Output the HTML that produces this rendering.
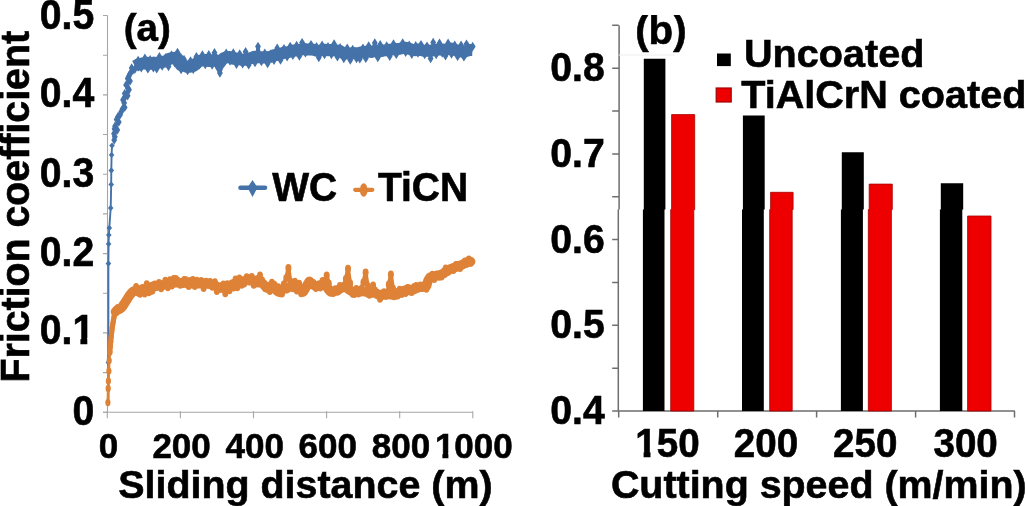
<!DOCTYPE html>
<html><head><meta charset="utf-8"><title>Friction coefficient charts</title>
<style>html,body{margin:0;padding:0;background:#fff;}svg{display:block;}text{font-family:"Liberation Sans",Arial,Helvetica,sans-serif;font-weight:bold;fill:#000;stroke:#000;stroke-width:0.6px;}</style>
</head><body>
<svg width="1025" height="506" viewBox="0 0 1025 506">
<defs>
<marker id="db" markerWidth="9" markerHeight="10" refX="4.5" refY="4.5" overflow="visible" markerUnits="userSpaceOnUse"><path d="M4.5 -0.2 L7.4 4.5 L4.5 9.2 L1.6 4.5Z" fill="#4472a9"/></marker>
<marker id="ds" markerWidth="7" markerHeight="7" refX="3.5" refY="3.5" markerUnits="userSpaceOnUse"><path d="M3.5 0.4 L6.3 3.5 L3.5 6.6 L0.7 3.5Z" fill="#4472a9"/></marker>
<marker id="co" markerWidth="8" markerHeight="8" refX="4" refY="4" overflow="visible" markerUnits="userSpaceOnUse"><ellipse cx="4" cy="4" rx="3.0" ry="4.0" fill="#de8238"/></marker>
</defs>
<rect width="1025" height="506" fill="#fff"/>
<g stroke="#a6a6a6" stroke-width="1.1" fill="none">
<path d="M107.5 15.5 V412.3 M103.0 412.3 H473"/>
<path d="M103.0 412.3 H107.5 M103.0 372.6 H107.5 M103.0 332.9 H107.5 M103.0 293.3 H107.5 M103.0 253.6 H107.5 M103.0 213.9 H107.5 M103.0 174.2 H107.5 M103.0 134.5 H107.5 M103.0 94.9 H107.5 M103.0 55.2 H107.5 M103.0 15.5 H107.5 M107.3 411.3 V418.3 M180.4 411.3 V418.3 M253.5 411.3 V418.3 M326.6 411.3 V418.3 M399.7 411.3 V418.3 M472.8 411.3 V418.3 "/>
</g>
<text transform="translate(94.2 424.6) scale(1 1.065)" font-size="39.2" text-anchor="end">0</text>
<text transform="translate(94.2 344.4) scale(1 1.065)" font-size="39.2" text-anchor="end">0.1</text>
<text transform="translate(94.2 265.9) scale(1 1.065)" font-size="39.2" text-anchor="end">0.2</text>
<text transform="translate(94.2 186.5) scale(1 1.065)" font-size="39.2" text-anchor="end">0.3</text>
<text transform="translate(94.2 107.2) scale(1 1.065)" font-size="39.2" text-anchor="end">0.4</text>
<text transform="translate(94.2 29.0) scale(1 1.065)" font-size="39.2" text-anchor="end">0.5</text>
<text transform="translate(108.5 457.5) scale(1 1.02)" font-size="35" text-anchor="middle">0</text>
<text transform="translate(181.6 457.5) scale(1 1.02)" font-size="35" text-anchor="middle">200</text>
<text transform="translate(254.7 457.5) scale(1 1.02)" font-size="35" text-anchor="middle">400</text>
<text transform="translate(327.8 457.5) scale(1 1.02)" font-size="35" text-anchor="middle">600</text>
<text transform="translate(400.9 457.5) scale(1 1.02)" font-size="35" text-anchor="middle">800</text>
<text transform="translate(473.8 457.5) scale(1 1.02)" font-size="35" text-anchor="middle">1000</text>
<text x="118.3" y="498" font-size="39.4">Sliding distance (m)</text>
<text transform="translate(29.0 382.6) rotate(-90) scale(1.008 1.04)" font-size="39">Friction coefficient</text>
<text x="123.7" y="41.0" font-size="38.5">(a)</text>
<rect x="73" y="338" width="7.4" height="8.0" fill="#fff"/>
<rect x="87.3" y="338" width="7.7" height="8.0" fill="#fff"/>
<rect x="435.5" y="453" width="6.9" height="7.0" fill="#fff"/>
<rect x="448.4" y="453" width="6.8" height="7.0" fill="#fff"/>
<polyline points="108.4,404 108.4,362.5 108.4,263.6 108.6,244 108.8,235 109.3,228 110.7,208 111.2,184.5 111.3,170.4 111.6,155 112.0,145.6" stroke="#4472a9" stroke-width="1.9" fill="none" marker-mid="url(#ds)" marker-end="url(#ds)"/>
<polyline points="135.0,66.2 138.4,64.4 141.7,63.6 144.5,63.5 147.6,62.7 150.4,63.7 153.8,62.6 156.6,63.1 159.4,62.4 162.5,61.8 165.5,61.6 168.5,59.1 171.1,58.4 174.3,57.8 177.4,58.2 180.8,65.1 184.1,65.6 187.2,66.8 190.2,66.7 193.5,66.0 196.5,63.4 199.3,60.9 202.2,60.5 205.6,60.0 208.9,61.0 211.9,60.7 214.8,59.7 217.5,61.8 220.2,62.1 223.4,58.4 226.6,57.2 229.8,57.0 233.0,58.7 236.4,58.6 239.3,59.2 242.5,59.8 245.3,59.8 248.7,58.8 252.0,57.7 254.9,56.7 258.3,57.3 261.4,57.3 264.5,57.6 267.8,57.1 270.9,56.7 274.0,55.2 277.5,54.7 280.8,53.9 284.2,52.4 287.4,52.4 290.2,51.5 293.1,50.6 296.3,50.6 299.5,50.0 302.3,49.2 305.2,49.1 308.1,49.6 310.8,49.6 313.5,49.7 316.3,50.7 318.9,51.2 322.0,50.0 324.7,49.7 327.8,50.2 331.0,49.9 333.8,50.2 337.2,50.5 340.5,51.4 343.6,53.2 346.8,53.4 350.1,53.9 353.0,53.0 356.4,53.4 359.6,52.9 363.0,52.0 365.7,52.0 368.6,51.4 371.2,51.9 374.4,50.9 377.5,51.0 380.5,51.2 383.5,50.4 386.5,50.3 390.0,49.8 393.3,49.4 396.5,48.9 399.9,48.7 402.6,48.0 405.7,47.7 409.1,48.7 411.9,49.6 415.4,50.2 418.3,49.4 421.3,50.2 424.5,50.8 427.3,50.7 430.4,50.7 433.3,50.3 436.2,49.8 439.3,49.4 442.1,49.6 445.3,49.8 448.0,49.0 451.3,48.6 454.6,49.8 457.6,50.7 460.8,51.3 464.0,51.8 466.7,50.9 469.6,50.0 472.4,50.1" stroke="#4472a9" stroke-width="12" fill="none" stroke-linejoin="round"/>
<polyline points="114.2,140.1 114.8,136.7 114.0,133.8 117.3,130.0 114.5,128.9 115.0,126.2 118.8,122.1 116.6,119.5 118.0,116.7 120.0,114.9 121.1,112.0 122.5,108.9 124.7,107.4 124.2,102.9 123.0,99.9 124.3,98.3 127.6,95.7 124.7,93.6 129.0,89.8 127.9,88.3 126.1,84.9 130.0,81.1 127.7,78.5 128.9,76.3 129.9,73.9 132.8,70.3 131.7,67.9 134.8,69.2 138.1,60.5 141.3,67.7 144.9,58.2 147.9,68.9 150.2,59.7 153.4,67.9 156.7,68.7 159.4,56.7 162.2,66.1 165.6,58.0 168.5,66.5 171.5,54.9 174.7,62.8 177.5,52.5 181.1,69.6 184.0,59.4 187.6,70.5 190.5,61.0 193.3,69.4 196.4,56.7 199.3,64.8 202.4,55.0 205.3,64.6 208.8,54.8 212.1,65.0 214.5,52.7 217.7,67.5 219.9,73.0 223.6,63.2 226.2,53.2 230.0,61.0 233.3,52.9 236.5,64.3 239.7,54.0 242.6,63.9 245.6,51.8 248.7,64.9 252.3,55.5 255.0,62.6 258.0,46.5 261.4,61.6 264.8,53.2 267.6,63.6 270.8,54.2 274.0,60.2 277.2,48.3 280.5,60.1 284.0,48.6 287.1,56.8 290.2,46.5 292.9,55.3 296.6,45.5 299.4,56.0 302.1,42.6 305.4,52.9 308.5,48.5 311.0,44.6 313.6,51.4 316.6,46.7 318.8,57.6 322.1,45.2 324.5,54.6 328.0,46.7 331.4,54.6 334.1,43.9 337.4,56.7 340.1,47.8 343.8,58.6 347.2,48.2 350.3,60.1 352.7,49.5 356.5,58.6 359.8,58.9 363.0,48.1 365.8,58.4 368.7,45.9 371.1,53.0 374.8,43.0 377.8,57.5 380.2,44.7 383.5,52.1 386.7,46.0 389.7,56.2 393.5,44.0 396.3,54.4 399.8,49.6 402.7,42.9 405.6,52.3 409.2,45.1 411.8,54.3 415.7,45.8 418.0,53.1 421.0,44.6 424.7,54.5 427.0,46.1 430.6,58.5 433.2,42.4 436.2,54.5 439.5,43.3 442.2,53.1 445.5,55.8 448.1,43.3 451.5,54.1 454.7,45.1 457.6,56.4 461.1,45.2 463.9,56.9 466.5,44.1 469.7,51.3 472.7,46.5" stroke="#4472a9" stroke-width="2.8" stroke-linejoin="round" fill="none" marker-start="url(#db)" marker-mid="url(#db)" marker-end="url(#db)"/>
<polyline points="107.9,402.6 108.2,388.4 108.4,381 108.9,371 109.2,360.5 109.9,352.3" stroke="#de8238" stroke-width="2.6" fill="none"/>
<polyline points="109.9,352.3 110.4,346 110.8,341 111.2,336.5 111.7,332 112.2,328 112.8,324 113.4,320.5 114,317 114.9,313.5" stroke="#de8238" stroke-width="5" fill="none" stroke-linecap="round"/>
<ellipse cx="107.9" cy="402.6" rx="2.6" ry="3.6" fill="#de8238"/>
<ellipse cx="108.2" cy="388.4" rx="2.6" ry="3.6" fill="#de8238"/>
<ellipse cx="108.4" cy="381" rx="2.6" ry="3.6" fill="#de8238"/>
<ellipse cx="108.9" cy="371" rx="2.6" ry="3.6" fill="#de8238"/>
<ellipse cx="109.2" cy="360.5" rx="2.6" ry="3.6" fill="#de8238"/>
<ellipse cx="109.9" cy="352.3" rx="2.6" ry="3.6" fill="#de8238"/>
<ellipse cx="110.4" cy="346" rx="2.6" ry="3.6" fill="#de8238"/>
<ellipse cx="110.8" cy="341" rx="2.6" ry="3.6" fill="#de8238"/>
<ellipse cx="111.2" cy="336.5" rx="2.6" ry="3.6" fill="#de8238"/>
<ellipse cx="111.7" cy="332" rx="2.6" ry="3.6" fill="#de8238"/>
<ellipse cx="112.2" cy="328" rx="2.6" ry="3.6" fill="#de8238"/>
<ellipse cx="112.8" cy="324" rx="2.6" ry="3.6" fill="#de8238"/>
<ellipse cx="113.4" cy="320.5" rx="2.6" ry="3.6" fill="#de8238"/>
<ellipse cx="114" cy="317" rx="2.6" ry="3.6" fill="#de8238"/>
<ellipse cx="114.9" cy="313.5" rx="2.6" ry="3.6" fill="#de8238"/>
<polyline points="115.5,311.8 117.8,309.4 119.8,309.0 122.0,307.2 124.5,303.3 127.1,299.3 129.6,295.3 131.8,292.7 133.7,291.0 136.1,290.7 137.9,290.0 140.1,290.3 142.3,289.8 144.7,289.4 146.7,288.0 148.8,287.6 150.8,287.1 152.5,286.3 154.7,286.4 156.7,285.6 159.0,285.3 161.1,285.5 163.4,284.6 165.3,284.1 167.9,283.1 169.9,282.9 171.9,283.0 173.7,282.9 175.9,282.8 177.7,282.5 180.1,282.8 182.3,282.8 184.1,282.5 186.2,283.2 188.6,283.3 190.3,283.7 192.8,283.6 194.8,283.6 196.8,283.7 199.0,283.7 201.2,283.4 203.6,283.2 206.0,283.6 207.9,283.2 210.2,284.3 212.4,285.1 214.9,285.4 216.8,286.5 219.0,287.4 221.6,288.0 223.4,287.8 225.3,288.4 227.3,287.8 229.5,286.1 231.6,285.3 233.5,284.3 235.5,282.9 237.3,282.5 239.4,282.0 241.7,281.7 244.2,280.9 246.7,280.3 249.2,279.1 251.8,280.8 253.7,281.5 255.8,282.5 258.2,282.6 260.2,282.5 262.8,283.7 265.2,286.3 267.7,288.2 269.9,286.5 271.9,285.2 274.3,287.4 276.0,289.8 278.2,291.9 280.1,291.0 282.0,289.2 283.8,288.9 286.1,288.7 287.9,287.7 290.4,286.6 292.9,285.5 294.9,285.5 296.8,286.9 299.1,288.1 301.1,290.2 303.3,291.9 305.5,288.1 307.5,284.4 309.4,281.3 311.6,283.5 313.3,284.9 315.9,285.9 318.2,286.0 320.3,285.4 322.5,284.0 324.3,283.6 326.7,286.8 328.9,290.0 330.6,291.9 333.1,291.8 335.2,291.0 337.7,290.5 339.9,288.8 341.8,287.6 344.0,287.3 346.4,287.3 348.8,289.6 350.8,290.7 352.6,291.7 354.4,292.2 356.3,291.8 358.3,291.5 360.9,291.8 362.8,291.1 365.4,291.8 367.6,292.6 369.4,293.2 371.6,292.9 374.0,293.0 376.1,293.2 377.9,294.6 380.0,295.5 381.9,294.6 384.0,293.8 385.9,294.4 387.8,293.9 389.9,294.6 391.6,294.7 394.1,295.4 395.8,294.6 397.7,293.1 399.7,291.8 401.7,291.4 403.6,291.1 405.6,290.3 407.6,289.2 409.9,289.4 411.8,289.5 414.2,289.4 416.1,288.2 418.1,287.7 420.3,286.9 422.4,286.9 424.2,286.6 426.4,286.3 428.1,280.4 430.2,277.2 432.3,276.4 434.3,276.2 436.6,275.7 439.2,275.1 441.6,274.1 443.7,273.5 445.7,271.6 447.9,270.4 449.7,269.2 451.6,268.5 453.5,267.9 455.8,267.2 457.8,266.6 460.1,265.5 462.6,264.3 464.8,263.3 467.0,262.4 468.8,261.5 470.6,261.6" stroke="#de8238" stroke-width="9.6" fill="none" stroke-linejoin="round" stroke-linecap="round"/>
<polyline points="115.5,312.6 117.8,307.9 119.8,309.8 122.0,305.3 124.5,305.4 127.1,297.9 129.6,297.1 131.8,291.8 133.7,292.2 136.1,287.0 137.9,292.4 140.1,293.8 142.3,288.1 144.7,293.6 146.7,284.2 148.8,292.3 150.8,291.1 152.5,290.4 154.7,284.6 156.7,287.1 159.0,282.9 161.1,288.3 163.4,285.9 165.3,280.8 167.9,287.2 169.9,280.3 171.9,285.6 173.7,279.0 175.9,279.0 177.7,280.8 180.1,284.7 182.3,284.3 184.1,279.9 186.2,280.2 188.6,285.9 190.3,281.0 192.8,280.0 194.8,286.0 196.8,280.7 199.0,282.0 201.2,281.0 203.6,288.0 206.0,281.7 207.9,284.7 210.2,281.9 212.4,286.8 214.9,282.3 216.8,291.0 219.0,289.0 221.6,286.0 223.4,284.6 225.3,293.2 227.3,284.2 229.5,290.2 231.6,283.5 233.5,287.4 235.5,279.4 237.3,287.2 239.4,278.6 241.7,284.7 244.2,283.6 246.7,277.2 249.2,281.4 251.8,277.0 253.7,284.8 255.8,279.4 257.9,279.0 260.0,275.5 262.1,280.4 265.2,288.3 267.7,286.7 269.9,291.1 271.9,282.8 274.3,284.8 276.0,291.1 278.2,287.3 280.1,293.3 282.0,293.5 283.8,284.6 286.3,277.9 288.4,268.0 290.5,281.8 292.9,288.3 294.9,281.8 296.8,290.5 299.1,283.7 301.1,293.2 303.3,290.9 305.5,290.2 307.5,283.0 309.4,283.9 311.6,282.2 313.3,283.0 315.9,287.9 318.2,284.4 320.3,287.4 322.5,280.9 324.6,281.2 326.7,275.6 328.8,283.4 330.6,289.7 333.1,293.0 335.2,289.2 337.7,291.5 339.9,286.1 341.8,288.5 344.0,285.8 345.9,279.1 348.0,268.7 350.1,283.3 352.6,293.7 354.4,294.1 356.3,288.9 358.3,293.4 360.9,289.2 363.5,282.2 365.6,272.6 367.7,286.0 369.4,294.8 371.0,289.2 373.1,285.5 375.2,290.7 377.9,293.3 380.0,298.7 381.9,296.3 384.0,292.3 385.9,296.1 387.8,292.2 388.8,284.6 390.9,274.6 393.0,288.7 395.8,292.9 397.7,295.4 399.7,289.7 401.7,294.0 403.6,289.7 405.6,293.1 407.6,287.9 409.9,291.5 411.8,291.9 414.2,287.0 416.1,285.9 418.1,288.6 420.3,285.4 422.4,288.1 424.2,284.9 426.4,288.8 428.1,278.7 430.2,278.1 432.3,274.8 434.3,279.1 436.6,274.5 439.2,276.8 441.6,276.4 443.7,272.0 445.7,268.6 447.9,271.9 449.7,270.5 451.6,267.7 453.5,269.9 455.8,265.1 457.8,265.0 460.1,267.9 462.6,265.5 464.8,261.6 467.0,263.8 468.8,259.5 470.6,262.7" stroke="#de8238" stroke-width="4" fill="none" stroke-linejoin="round" stroke-linecap="round" marker-start="url(#co)" marker-mid="url(#co)" marker-end="url(#co)"/>
<path d="M240.5 187.8 H265" stroke="#4472a9" stroke-width="4.6" stroke-linecap="round"/>
<path d="M247.5 187.6 L252.5 180 L257.5 187.6 L252.5 197Z" fill="#4472a9"/>
<text transform="translate(272.3 200.9) scale(1 1.045)" font-size="39">WC</text>
<path d="M355.2 189.8 H372.3" stroke="#de8238" stroke-width="4.2" stroke-linecap="round"/>
<ellipse cx="363.7" cy="190" rx="3.8" ry="6.8" fill="#de8238"/>
<text transform="translate(377.9 200.5) scale(1 1.045)" font-size="39">TiCN</text>
<g stroke="#6e6e6e" stroke-width="1.5" fill="none">
<path d="M619.1 25.4 V209.6 M618.3000000000001 209.6 V411.0 M612.2 411.0 H1014.8 M612.2 411.0 H618.7 M612.2 368.2 H618.7 M612.2 325.3 H618.7 M612.2 282.4 H618.7 M612.2 239.6 H618.7 M612.2 196.8 H618.7 M612.2 153.9 H618.7 M612.2 111.1 H618.7 M612.2 68.2 H618.7 M612.2 25.3 H618.7 M618.7 411.0 V417.5 M717.7 411.0 V417.5 M816.6 411.0 V417.5 M915.6 411.0 V417.5 M1014.5 411.0 V417.5 "/>
</g>
<path d="M618.7 55 H675" stroke="#ededed" stroke-width="1" fill="none"/>
<text transform="translate(604.8 423.9) scale(1 1.06)" font-size="39.2" text-anchor="end">0.4</text>
<text transform="translate(604.8 338.2) scale(1 1.06)" font-size="39.2" text-anchor="end">0.5</text>
<text transform="translate(604.8 252.5) scale(1 1.06)" font-size="39.2" text-anchor="end">0.6</text>
<text transform="translate(604.8 166.8) scale(1 1.06)" font-size="39.2" text-anchor="end">0.7</text>
<text transform="translate(604.8 81.1) scale(1 1.06)" font-size="39.2" text-anchor="end">0.8</text>
<path d="M643.8 209.6 V58.7 H665.4 V209.6 H664.5 V411.0 H642.9 V209.6Z" fill="#000"/>
<path d="M671.6 209.6 V114.6 H694.7 V209.6 H693.8 V411.0 H670.7 V209.6Z" fill="#ee0000" stroke="#a40000" stroke-width="0.8"/>
<path d="M742.9 209.6 V115.5 H764.7 V209.6 H763.8 V411.0 H742.0 V209.6Z" fill="#000"/>
<path d="M770.6 209.6 V192.3 H793.1 V209.6 H792.2 V411.0 H769.7 V209.6Z" fill="#ee0000" stroke="#a40000" stroke-width="0.8"/>
<path d="M841.8 209.6 V152.2 H863.8 V209.6 H862.9 V411.0 H840.9 V209.6Z" fill="#000"/>
<path d="M869.2 209.6 V184.1 H892.3 V209.6 H891.4 V411.0 H868.3 V209.6Z" fill="#ee0000" stroke="#a40000" stroke-width="0.8"/>
<path d="M940.8 209.6 V183.2 H963.2 V209.6 H962.3 V411.0 H939.9 V209.6Z" fill="#000"/>
<path d="M967.6 411.0 V216 H991.0 V411.0Z" fill="#ee0000" stroke="#a40000" stroke-width="0.8"/>
<text transform="translate(667.5 457.2) scale(1 1.04)" font-size="38.6" text-anchor="middle">150</text>
<text transform="translate(766 457.2) scale(1 1.04)" font-size="38.6" text-anchor="middle">200</text>
<text transform="translate(865.2 457.2) scale(1 1.04)" font-size="38.6" text-anchor="middle">250</text>
<text transform="translate(965.6 457.2) scale(1 1.04)" font-size="38.6" text-anchor="middle">300</text>
<rect x="635.2" y="451" width="8.4" height="8.0" fill="#fff"/>
<rect x="650.5" y="451" width="6.3" height="8.0" fill="#fff"/>
<text x="610.9" y="498.2" font-size="39.4">Cutting speed (m/min)</text>
<clipPath id="cb"><rect x="600" y="15" width="120" height="60"/></clipPath>
<text x="635.2" y="44.2" font-size="40.3" clip-path="url(#cb)">(b)</text>
<rect x="717" y="53.5" width="13.8" height="12.6" fill="#000"/>
<rect x="716.2" y="88" width="15" height="14" fill="#ee0000" stroke="#a00000" stroke-width="1.2"/>
<text x="744" y="66.9" font-size="39.6">Uncoated</text>
<text x="741.2" y="108" font-size="39.6">TiAlCrN coated</text>
</svg>
</body></html>
